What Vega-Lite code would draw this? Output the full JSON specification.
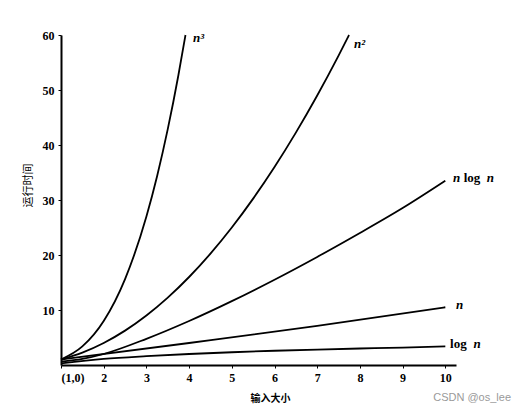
{
  "$schema": "https://vega.github.io/schema/vega-lite/v6.json",
  "width": 395,
  "height": 330,
  "autosize": "none",
  "padding": {"left": 61, "top": 35, "right": 71, "bottom": 54},
  "background": "white",
  "title": {
    "text": "CSDN @os_lee",
    "orient": "bottom",
    "anchor": "end",
    "frame": "group",
    "font": "Liberation Sans",
    "fontSize": 11,
    "fontWeight": "normal",
    "color": "#9a9a9a",
    "offset": 4,
    "dx": 55,
    "dy": -15
  },
  "datasets": {
    "curves": [
      {"n": 1, "t": 1, "f": "n3"}, {"n": 1.5, "t": 3.375, "f": "n3"}, {"n": 2, "t": 8, "f": "n3"},
      {"n": 2.5, "t": 15.625, "f": "n3"}, {"n": 3, "t": 27, "f": "n3"}, {"n": 3.25, "t": 34.33, "f": "n3"},
      {"n": 3.5, "t": 42.875, "f": "n3"}, {"n": 3.75, "t": 52.73, "f": "n3"}, {"n": 3.915, "t": 60, "f": "n3"},
      {"n": 1, "t": 1, "f": "n2"}, {"n": 1.5, "t": 2.25, "f": "n2"}, {"n": 2, "t": 4, "f": "n2"},
      {"n": 2.5, "t": 6.25, "f": "n2"}, {"n": 3, "t": 9, "f": "n2"}, {"n": 3.5, "t": 12.25, "f": "n2"},
      {"n": 4, "t": 16, "f": "n2"}, {"n": 4.5, "t": 20.25, "f": "n2"}, {"n": 5, "t": 25, "f": "n2"},
      {"n": 5.5, "t": 30.25, "f": "n2"}, {"n": 6, "t": 36, "f": "n2"}, {"n": 6.5, "t": 42.25, "f": "n2"},
      {"n": 7, "t": 49, "f": "n2"}, {"n": 7.5, "t": 56.25, "f": "n2"}, {"n": 7.746, "t": 60, "f": "n2"},
      {"n": 1, "t": 0.6, "f": "nlogn"}, {"n": 1.5, "t": 1.1, "f": "nlogn"}, {"n": 2, "t": 2, "f": "nlogn"},
      {"n": 3, "t": 4.76, "f": "nlogn"}, {"n": 4, "t": 8, "f": "nlogn"}, {"n": 5, "t": 11.61, "f": "nlogn"},
      {"n": 6, "t": 15.51, "f": "nlogn"}, {"n": 7, "t": 19.65, "f": "nlogn"}, {"n": 8, "t": 24, "f": "nlogn"},
      {"n": 9, "t": 28.53, "f": "nlogn"}, {"n": 10, "t": 33.5, "f": "nlogn"},
      {"n": 1, "t": 1, "f": "n"}, {"n": 4, "t": 4, "f": "n"}, {"n": 7, "t": 7.1, "f": "n"}, {"n": 10, "t": 10.5, "f": "n"},
      {"n": 1, "t": 0.3, "f": "logn"}, {"n": 2, "t": 1.1, "f": "logn"}, {"n": 3, "t": 1.6, "f": "logn"},
      {"n": 4, "t": 2, "f": "logn"}, {"n": 5, "t": 2.32, "f": "logn"}, {"n": 6, "t": 2.59, "f": "logn"},
      {"n": 7, "t": 2.81, "f": "logn"}, {"n": 8, "t": 3, "f": "logn"}, {"n": 9, "t": 3.17, "f": "logn"},
      {"n": 10, "t": 3.4, "f": "logn"}
    ],
    "labels": [
      {"n": 4.09, "t": 59.5, "label": "n³", "style": "italic"},
      {"n": 7.86, "t": 58.4, "label": "n²", "style": "italic"},
      {"n": 10.18, "t": 34, "label": "n", "style": "italic"},
      {"n": 10.43, "t": 34, "label": "log", "style": "normal"},
      {"n": 10.97, "t": 34, "label": "n", "style": "italic"},
      {"n": 10.25, "t": 11, "label": "n", "style": "italic"},
      {"n": 10.11, "t": 3.9, "label": "log", "style": "normal"},
      {"n": 10.66, "t": 3.9, "label": "n", "style": "italic"}
    ]
  },
  "layer": [
    {
      "data": {"name": "curves"},
      "mark": {"type": "line", "color": "black", "strokeWidth": 1.8, "interpolate": "monotone", "clip": false},
      "encoding": {
        "x": {
          "field": "n", "type": "quantitative",
          "scale": {"domain": [1, 10.25], "nice": false, "zero": false},
          "axis": {
            "values": [1, 2, 3, 4, 5, 6, 7, 8, 9, 10],
            "labelExpr": "datum.value == 1 ? '(1,0)' : datum.label",
            "title": "输入大小",
            "titleX": 209,
            "titleY": 33,
            "titleFont": "Noto Sans CJK SC",
            "titleFontSize": 10,
            "titleFontWeight": "bold",
            "titleBaseline": "middle"
          }
        },
        "y": {
          "field": "t", "type": "quantitative",
          "scale": {"domain": [0, 60], "nice": false},
          "axis": {
            "values": [10, 20, 30, 40, 50, 60],
            "title": "运行时间",
            "titleX": -33,
            "titleY": 150,
            "titleAngle": -90,
            "titleFont": "Noto Sans CJK SC",
            "titleFontSize": 11,
            "titleFontWeight": "normal",
            "titleBaseline": "middle"
          }
        },
        "detail": {"field": "f", "type": "nominal"}
      }
    },
    {
      "data": {"name": "labels"},
      "transform": [{"filter": "datum.style == 'italic'"}],
      "mark": {"type": "text", "align": "left", "baseline": "middle", "font": "Liberation Serif", "fontSize": 13, "fontWeight": "bold", "fontStyle": "italic", "color": "black", "clip": false},
      "encoding": {
        "x": {"field": "n", "type": "quantitative"},
        "y": {"field": "t", "type": "quantitative"},
        "text": {"field": "label"}
      }
    },
    {
      "data": {"name": "labels"},
      "transform": [{"filter": "datum.style == 'normal'"}],
      "mark": {"type": "text", "align": "left", "baseline": "middle", "font": "Liberation Serif", "fontSize": 13, "fontWeight": "bold", "color": "black", "clip": false},
      "encoding": {
        "x": {"field": "n", "type": "quantitative"},
        "y": {"field": "t", "type": "quantitative"},
        "text": {"field": "label"}
      }
    }
  ],
  "config": {
    "view": {"stroke": null},
    "axis": {
      "grid": false,
      "domainColor": "black",
      "domainWidth": 2,
      "tickColor": "black",
      "tickSize": 3,
      "labelFont": "Liberation Serif",
      "labelFontSize": 12,
      "labelFontWeight": "bold",
      "labelColor": "black",
      "labelPadding": 4,
      "titleColor": "black"
    }
  }
}
